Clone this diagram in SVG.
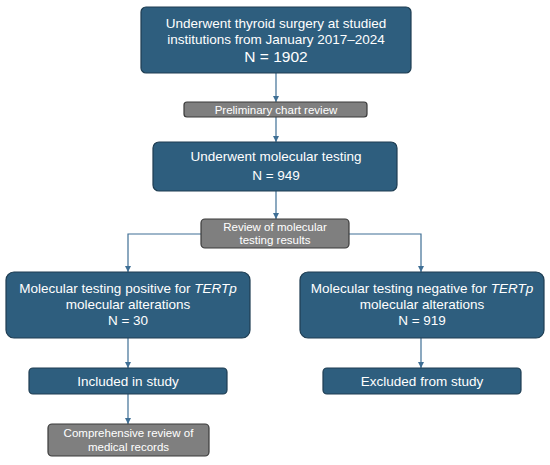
<svg xmlns="http://www.w3.org/2000/svg" width="550" height="465" viewBox="0 0 550 465">
<defs>
<style>
.blue{fill:#2e5e7e;stroke:#1e3d52;stroke-width:1.2}
.gray{fill:#7f7f7f;stroke:#3a3a3a;stroke-width:1.2}
.t{font-family:"Liberation Sans",Arial,sans-serif;fill:#ffffff;text-anchor:middle}
.tb{font-size:13.5px}
.tg{font-size:11.5px}
.c{stroke:#3f6f95;stroke-width:1.2;fill:none}
</style>
<marker id="ah" viewBox="0 0 10 10" refX="10" refY="5" markerWidth="6" markerHeight="6" orient="auto" markerUnits="userSpaceOnUse">
<path d="M0,0 L10,5 L0,10 z" fill="#3f6f95"/>
</marker>
</defs>
<rect width="550" height="465" fill="#ffffff"/>
<g id="connectors">
<line class="c" x1="276" y1="73" x2="276" y2="102" marker-end="url(#ah)"/>
<line class="c" x1="276" y1="117" x2="276" y2="142" marker-end="url(#ah)"/>
<line class="c" x1="276" y1="191" x2="276" y2="219" marker-end="url(#ah)"/>
<polyline class="c" points="201,234 128,234 128,272" marker-end="url(#ah)"/>
<polyline class="c" points="349,234 421,234 421,272" marker-end="url(#ah)"/>
<line class="c" x1="128" y1="338" x2="128" y2="368" marker-end="url(#ah)"/>
<line class="c" x1="128" y1="394" x2="128" y2="424" marker-end="url(#ah)"/>
<line class="c" x1="421" y1="338" x2="421" y2="368" marker-end="url(#ah)"/>
</g>
<g id="n1">
<rect class="blue" x="141" y="7" width="270" height="66" rx="5"/>
<text class="t tb" x="276" y="28">Underwent thyroid surgery at studied</text>
<text class="t tb" x="276" y="44">institutions from January 2017–2024</text>
<text class="t" x="276" y="62" font-size="15.5px">N = 1902</text>
</g>
<g id="n2">
<rect class="gray" x="184" y="102" width="183" height="15" rx="3"/>
<text class="t tg" x="276" y="113.5">Preliminary chart review</text>
</g>
<g id="n3">
<rect class="blue" x="153" y="142" width="244" height="49" rx="6"/>
<text class="t tb" x="276" y="161">Underwent molecular testing</text>
<text class="t tb" x="276" y="180">N = 949</text>
</g>
<g id="n4">
<rect class="gray" x="201" y="219" width="148" height="29" rx="4"/>
<text class="t tg" x="275" y="231">Review of molecular</text>
<text class="t tg" x="275" y="244">testing results</text>
</g>
<g id="n5">
<rect class="blue" x="6" y="272" width="244" height="66" rx="8"/>
<text class="t tb" x="128" y="293">Molecular testing positive for <tspan font-style="italic">TERTp</tspan></text>
<text class="t tb" x="128" y="309">molecular alterations</text>
<text class="t tb" x="128" y="325">N = 30</text>
</g>
<g id="n6">
<rect class="blue" x="300" y="272" width="244" height="66" rx="8"/>
<text class="t tb" x="422" y="293">Molecular testing negative for <tspan font-style="italic">TERTp</tspan></text>
<text class="t tb" x="422" y="309">molecular alterations</text>
<text class="t tb" x="422" y="325">N = 919</text>
</g>
<g id="n7">
<rect class="blue" x="29" y="368" width="198" height="26" rx="4"/>
<text class="t tb" x="128" y="386">Included in study</text>
</g>
<g id="n8">
<rect class="blue" x="323" y="368" width="198" height="26" rx="4"/>
<text class="t tb" x="422" y="386">Excluded from study</text>
</g>
<g id="n9">
<rect class="gray" x="48" y="424" width="161" height="32" rx="4"/>
<text class="t tg" x="128.5" y="437">Comprehensive review of</text>
<text class="t tg" x="128.5" y="451">medical records</text>
</g>
</svg>
